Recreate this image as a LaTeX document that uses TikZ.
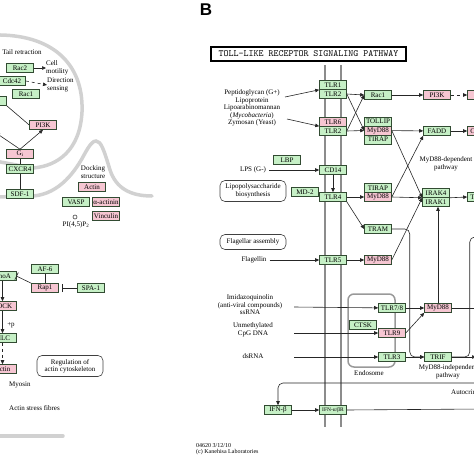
\documentclass[tikz,border=0pt]{standalone}
\usepackage{fontspec}
\setmainfont{Liberation Serif}
\setsansfont{Liberation Sans}
\usetikzlibrary{arrows.meta}

\definecolor{geneGreen}{RGB}{198,240,198}
\definecolor{genePink}{RGB}{246,198,210}
\definecolor{geneLine}{RGB}{50,75,50}

\begin{document}
\begin{tikzpicture}[x=1pt, y=-1pt]
    \useasboundingbox (0,0) rectangle (474,474);
    \clip (0,0) rectangle (474,474);

    \tikzset{
        TextStyle/.style={font=\fontsize{7}{7.4}\selectfont, align=center, inner sep=0pt},
        FrameStyle/.style={TextStyle, draw=black!75, line width=0.6pt, rounded corners=5pt, minimum width=66pt},
        MembraneStyle/.style={line width=2.5pt, black!45},
        CellStyle/.style={line width=3.5pt, black!18, line cap=round}
    }

    \draw[CellStyle] (-5,161) -- (33,168) .. controls (58,166) and (80,150) .. (82,112) .. controls (84,62) and (50,34) .. (-5,35);
    \draw[CellStyle] (-5,197) -- (33,196) .. controls (60,194) and (76,170) .. (84,155) .. controls (90,144) and (93,141) .. (96,141) .. controls (101,141) and (104,150) .. (110,170) .. controls (116,188) and (130,196) .. (152,196);
    \draw[CellStyle] (-5,436) -- (63,436);
    \draw[MembraneStyle] (325,65) -- (325,427);
    \draw[MembraneStyle] (341,65) -- (341,427);
    \draw[line width=1.5pt, black!40, rounded corners=6pt] (348,294) rectangle (395,367);

    \node[font=\fontsize{17}{17}\selectfont\sffamily\bfseries, inner sep=0pt] (Panel) at (206,10) {B};
    \node[draw, line width=1.2pt, minimum width=195pt, minimum height=14pt, inner sep=0pt, font=\fontsize{9.5}{10}\selectfont\ttfamily] (Title) at (308.5,54) {TOLL-LIKE RECEPTOR SIGNALING PATHWAY};

    \node[TextStyle] (Tail) at (22,52) {Tail retraction};
    \node[TextStyle, anchor=west, align=left] (Motility) at (46,68) {Cell\\motility};
    \node[TextStyle, anchor=west, align=left] (Sensing) at (47,85) {Direction\\sensing};
    \node[TextStyle] (Docking) at (93,172) {Docking\\structure};
    \node[TextStyle] (PIP) at (76,225) {PI(4,5)P\textsubscript{2}};
    \node[draw=black!75, circle, inner sep=0pt, minimum size=4pt, line width=0.6pt] (Lipid) at (75,217) {};
    \node[TextStyle] (Phos) at (11,325) {+p};
    \node[TextStyle, anchor=west] (Myosin) at (9,385) {Myosin};
    \node[TextStyle, anchor=west] (Fibres) at (9,408) {Actin stress fibres};
    \node[FrameStyle, minimum height=21pt] (Regulation) at (70,366) {Regulation of\\actin cytoskeleton};

    \node[TextStyle] (Pept) at (252,108) {Peptidoglycan (G+)\\Lipoprotein\\Lipoarabinomannan\\(\textit{Mycobacteria})\\Zymosan (Yeast)};
    \node[TextStyle] (LPS) at (253,170) {LPS (G-)};
    \node[FrameStyle, minimum height=21pt] (LPSBio) at (253,191) {Lipopolysaccharide\\biosynthesis};
    \node[FrameStyle, minimum height=15pt] (Flagella) at (253,242) {Flagellar assembly};
    \node[TextStyle] (Flagellin) at (254,260) {Flagellin};
    \node[TextStyle] (Imid) at (250,305) {Imidazoquinolin\\(anti-viral compounds)\\ssRNA};
    \node[TextStyle] (CpG) at (253,330) {Unmethylated\\CpG DNA};
    \node[TextStyle] (dsRNA) at (253,356) {dsRNA};
    \node[TextStyle] (Endosome) at (369,373) {Endosome};
    \node[TextStyle] (Dependent) at (446,164) {MyD88-dependent\\pathway};
    \node[TextStyle] (Independent) at (448,372) {MyD88-independent\\pathway};
    \node[TextStyle, anchor=west] (Autocrine) at (451,392) {Autocrine};
    \node[TextStyle, anchor=west, align=left, font=\fontsize{6}{6}\selectfont] (Footer) at (196,449) {04620 3/12/10\\(c) Kanehisa Laboratories};

    \tikzset{BoxStyle/.style={draw=geneLine, line width=0.55pt, fill=geneGreen, minimum width=27pt, minimum height=9pt, inner sep=0pt, font=\fontsize{7}{7}\selectfont}}
    \node[BoxStyle] (Rac2)   at (20,68)  {Rac2};
    \node[BoxStyle] (Cdc42)  at (12,81)  {Cdc42};
    \node[BoxStyle] (RacA)   at (26,94)  {Rac1};
    \node[BoxStyle] (Hidden) at (-7,101) {};
    \node[BoxStyle] (CXCR4)  at (20,169) {CXCR4};
    \node[BoxStyle] (SDF1)   at (20,194) {SDF-1};
    \node[BoxStyle] (VASP)   at (76,202) {VASP};
    \node[BoxStyle] (RhoA)   at (2.5,276) {RhoA};
    \node[BoxStyle] (AF6)    at (45,269) {AF-6};
    \node[BoxStyle] (SPA1)   at (91,288) {SPA-1};
    \node[BoxStyle] (MLC)    at (2.5,338) {MLC};

    \node[BoxStyle] (TLR1)   at (333,85)  {TLR1};
    \node[BoxStyle] (TLR2a)  at (333,94)  {TLR2};
    \node[BoxStyle] (TLR2b)  at (333,131) {TLR2};
    \node[BoxStyle] (Rac1)   at (378,95)  {Rac1};
    \node[BoxStyle] (TOLLIP) at (378,121.5) {TOLLIP};
    \node[BoxStyle] (TIRAPa) at (378,139.5) {TIRAP};
    \node[BoxStyle] (FADD)   at (437,131) {FADD};
    \node[BoxStyle] (LBP)    at (287,160) {LBP};
    \node[BoxStyle] (CD14)   at (333,170) {CD14};
    \node[BoxStyle] (MD2)    at (305,192) {MD-2};
    \node[BoxStyle] (TLR4)   at (333,197) {TLR4};
    \node[BoxStyle] (TIRAPb) at (378,188) {TIRAP};
    \node[BoxStyle] (IRAK4)  at (436,193) {IRAK4};
    \node[BoxStyle] (IRAK1)  at (436,202) {IRAK1};
    \node[BoxStyle] (TRAF6)  at (481,197) {TRAF6};
    \node[BoxStyle] (TRAM)   at (378,229) {TRAM};
    \node[BoxStyle] (TLR5)   at (333,260) {TLR5};
    \node[BoxStyle] (TLR78)  at (392,308) {TLR7/8};
    \node[BoxStyle] (CTSK)   at (363,325) {CTSK};
    \node[BoxStyle] (TLR3)   at (392,357) {TLR3};
    \node[BoxStyle] (TRIF)   at (438,357) {TRIF};
    \node[BoxStyle] (IFNB)   at (278,410) {IFN-β};
    \node[BoxStyle, font=\fontsize{5.5}{6}\selectfont] (IFNR) at (333,410) {IFN-α/βR};

    \tikzset{BoxStyle/.append style={fill=genePink}}
    \node[BoxStyle] (PIK)      at (43,125)  {PI3K};
    \node[BoxStyle] (Gi)       at (20,154)  {G\textsubscript{i}};
    \node[BoxStyle] (Actin)    at (92,187)  {Actin};
    \node[BoxStyle] (Actinin)  at (106,202) {α-actinin};
    \node[BoxStyle] (Vinculin) at (106,216) {Vinculin};
    \node[BoxStyle] (Rap1)     at (45,288)  {Rap1};
    \node[BoxStyle] (ROCK)     at (2.5,306) {ROCK};
    \node[BoxStyle] (ActinB)   at (2.5,369) {Actin};

    \node[BoxStyle] (TLR6)   at (333,122) {TLR6};
    \node[BoxStyle] (MyDa)   at (378,130.5) {MyD88};
    \node[BoxStyle] (PIKB)   at (437,95)  {PI3K};
    \node[BoxStyle] (AKT)    at (481,95)  {Akt};
    \node[BoxStyle] (CASP)   at (481,131) {CASP8};
    \node[BoxStyle] (MyDb)   at (378,197) {MyD88};
    \node[BoxStyle] (MyDc)   at (378,260) {MyD88};
    \node[BoxStyle] (TLR9)   at (392,333) {TLR9};
    \node[BoxStyle] (MyDd)   at (438,308) {MyD88};

    \coordinate (GiOut)   at (-4,133);
    \coordinate (PeptA)   at (285,97);
    \coordinate (PeptB)   at (287,119);
    \coordinate (ImidIn)  at (294,307);
    \coordinate (CpGIn)   at (294,333);
    \coordinate (dsIn)    at (294,357);
    \coordinate (MyDOut)  at (480,308);
    \coordinate (TbkOut)  at (476,357);
    \coordinate (RipOut)  at (480,237);
    \coordinate (AutoIn)  at (480,383);
    \coordinate (IfnOut)  at (480,409);

    \tikzset{EdgeStyle/.style={black!85, line width=0.6pt}}
    \draw[EdgeStyle] (Hidden.south east) -- (PIK.west);
    \draw[EdgeStyle] (Gi) -- (CXCR4);
    \draw[EdgeStyle] (CXCR4) -- (SDF1);
    \draw[EdgeStyle] (AF6) -- (Rap1);
    \draw[EdgeStyle] (MyDd.east) -- (MyDOut);
    \draw[EdgeStyle, rounded corners=5pt] (TRIF.east) -- ++(18,0) |- (RipOut);

    \tikzset{EdgeStyle/.style={-{Triangle[length=4pt, width=3.5pt]}, black!85, line width=0.6pt}}
    \draw[EdgeStyle] (Rac2) -- (Motility);
    \draw[EdgeStyle] (Gi.north) -- (PIK.south);
    \draw[EdgeStyle] (Gi.north) -- (GiOut);
    \draw[EdgeStyle] (RhoA) -- (ROCK);
    \draw[EdgeStyle] (ROCK) -- (MLC);

    \draw[EdgeStyle] (PeptA) -- (TLR1.south west);
    \draw[EdgeStyle] (PeptB) -- (TLR2b.north west);
    \draw[EdgeStyle] (TLR2a.east) -- (Rac1.west);
    \draw[EdgeStyle] (TLR2a.east) -- (MyDa.west);
    \draw[EdgeStyle] (TLR2b.east) -- (Rac1.west);
    \draw[EdgeStyle] (TLR2b.east) -- (MyDa.west);
    \draw[EdgeStyle] (Rac1) -- (PIKB);
    \draw[EdgeStyle] (MyDa) -- (FADD);
    \draw[EdgeStyle] (FADD) -- (CASP);
    \draw[EdgeStyle] (MyDa.east) -- (IRAK4.south west);
    \draw[EdgeStyle] (MyDb.east) -- (FADD.south west);
    \draw[EdgeStyle] (MyDb.east) -- (IRAK4.south west);
    \draw[EdgeStyle] (MyDc.east) -- (IRAK4.south west);
    \draw[EdgeStyle] (IRAK4.south east) -- (TRAF6.west);
    \draw[EdgeStyle, shorten <=3pt] (LPS) -- (CD14);
    \draw[EdgeStyle] (CD14) -- (TLR4);
    \draw[EdgeStyle] (TLR4) -- (MyDb);
    \draw[EdgeStyle] (TLR4.south east) -- (TRAM.west);
    \draw[EdgeStyle, shorten <=3pt] (Flagellin) -- (TLR5);
    \draw[EdgeStyle] (TLR5) -- (MyDc);
    \draw[EdgeStyle] (ImidIn) -- (TLR78);
    \draw[EdgeStyle] (CpGIn) -- (TLR9);
    \draw[EdgeStyle] (dsIn) -- (TLR3);
    \draw[EdgeStyle] (TLR78) -- (MyDd);
    \draw[EdgeStyle] (TLR9.east) -- (MyDd.south west);
    \draw[EdgeStyle] (TLR3) -- (TRIF);
    \draw[EdgeStyle] (MyDd.north) -- (MyDd.north |- IRAK1.south);
    \draw[EdgeStyle, rounded corners=5pt] (TRAM.east) -- ++(18,0) |- (TRIF.west);
    \draw[EdgeStyle] (TRIF.east) -- (TbkOut);
    \draw[EdgeStyle, rounded corners=5pt] (AutoIn) -| (IFNB.north);
    \draw[EdgeStyle] (IFNB) -- (IFNR);
    \draw[EdgeStyle] (IFNR.east) -- (IfnOut);

    \tikzset{EdgeStyle/.style={-{Triangle[length=4pt, width=3.5pt]}, dashed, black!85, line width=0.6pt}}
    \draw[EdgeStyle] (Cdc42.east) -- (Sensing.west);
    \draw[EdgeStyle] (MLC) -- (ActinB);
    \draw[EdgeStyle] (PIKB) -- (AKT);

    \tikzset{EdgeStyle/.style={-{Bar[width=8pt]}, black!85, line width=0.6pt}}
    \draw[EdgeStyle, shorten >=3pt] (SPA1) -- (Rap1);
    \draw[EdgeStyle] (Rap1.north west) -- (RhoA.east);
\end{tikzpicture}
\end{document}
